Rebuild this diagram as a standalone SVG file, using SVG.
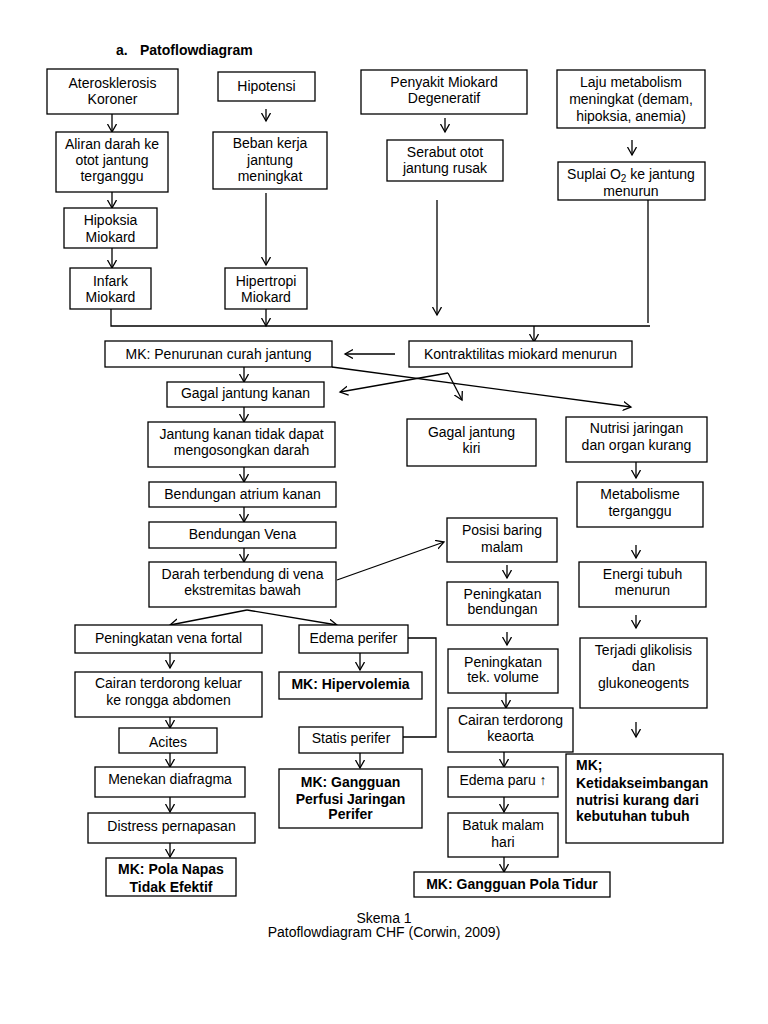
<svg xmlns="http://www.w3.org/2000/svg" width="768" height="1024" viewBox="0 0 768 1024">
<defs>
<marker id="ah" markerUnits="userSpaceOnUse" markerWidth="12" markerHeight="12" refX="8" refY="5" orient="auto">
<path d="M0,0.5 L8,5 L0,9.5" fill="none" stroke="#000" stroke-width="1.3"/>
</marker>
<style>
rect{fill:#fff;stroke:#000;stroke-width:1.3}
text{font-family:"Liberation Sans",Arial,sans-serif;font-size:14px;fill:#000}
.c{text-anchor:middle}
.b{font-weight:bold}
#connectors path,#connectors line,#connectors polyline{fill:none;stroke:#000;stroke-width:1.3}
.a{marker-end:url(#ah)}
</style>
</defs>
<rect x="0" y="0" width="768" height="1024" style="stroke:none"/>
<text x="116" y="55" class="b">a.</text>
<text x="140" y="55" class="b">Patoflowdiagram</text>

<g id="connectors">
<line class="a" x1="112" y1="114" x2="112" y2="132"/>
<line class="a" x1="112" y1="192" x2="112" y2="208"/>
<line class="a" x1="112" y1="248" x2="112" y2="268"/>
<line class="a" x1="266" y1="109" x2="266" y2="121"/>
<line class="a" x1="266" y1="193" x2="266" y2="265"/>
<line class="a" x1="266" y1="309" x2="266" y2="326"/>
<polyline points="111,309 111,326 650,326"/>
<line class="a" x1="445" y1="118" x2="445" y2="132"/>
<line class="a" x1="437" y1="200" x2="437" y2="315"/>
<line class="a" x1="632" y1="140" x2="632" y2="155"/>
<line x1="648" y1="200" x2="648" y2="323"/>
<line class="a" x1="534" y1="326" x2="534" y2="342"/>
<line class="a" x1="395" y1="354" x2="345" y2="354"/>
<line class="a" x1="244" y1="367" x2="244" y2="382"/>
<line class="a" x1="244" y1="407" x2="244" y2="422"/>
<line class="a" x1="244" y1="467" x2="244" y2="482"/>
<line class="a" x1="244" y1="507" x2="244" y2="522"/>
<line class="a" x1="244" y1="548" x2="244" y2="562"/>
<line class="a" x1="332" y1="367" x2="631" y2="407"/>
<line class="a" x1="448" y1="373" x2="340" y2="392"/>
<line class="a" x1="448" y1="373" x2="462" y2="400"/>
<line class="a" x1="337" y1="580" x2="444" y2="542"/>
<line class="a" x1="247" y1="610" x2="170" y2="625"/>
<line class="a" x1="247" y1="610" x2="337" y2="625"/>
<polyline points="408,638 436,638 436,737 403,737"/>
<line class="a" x1="360" y1="653" x2="360" y2="670"/>
<line class="a" x1="360" y1="753" x2="360" y2="768"/>
<line class="a" x1="170" y1="653" x2="170" y2="668"/>
<line class="a" x1="170" y1="717" x2="170" y2="728"/>
<line class="a" x1="170" y1="753" x2="170" y2="767"/>
<line class="a" x1="170" y1="797" x2="170" y2="812"/>
<line class="a" x1="170" y1="843" x2="170" y2="857"/>
<line class="a" x1="507" y1="565" x2="507" y2="578"/>
<line class="a" x1="507" y1="632" x2="507" y2="645"/>
<line class="a" x1="506" y1="693" x2="506" y2="708"/>
<line class="a" x1="504" y1="752" x2="504" y2="767"/>
<line class="a" x1="504" y1="797" x2="504" y2="812"/>
<line class="a" x1="504" y1="857" x2="504" y2="872"/>
<line class="a" x1="636" y1="462" x2="636" y2="478"/>
<line class="a" x1="636" y1="545" x2="636" y2="558"/>
<line class="a" x1="636" y1="615" x2="636" y2="628"/>
<line class="a" x1="636" y1="722" x2="636" y2="737"/>
</g>

<g id="aterosklerosis"><rect x="47" y="69" width="131" height="45"/><text class="c" x="112.5" y="88">Aterosklerosis</text><text class="c" x="112.5" y="104">Koroner</text></g>
<g id="hipotensi"><rect x="218" y="72" width="97" height="29"/><text class="c" x="266.5" y="91">Hipotensi</text></g>
<g id="aliran"><rect x="56" y="132" width="112" height="60"/><text class="c" x="112" y="149">Aliran darah ke</text><text class="c" x="112" y="165">otot jantung</text><text class="c" x="112" y="181">terganggu</text></g>
<g id="beban"><rect x="213" y="132" width="114" height="57"/><text class="c" x="270" y="148">Beban kerja</text><text class="c" x="270" y="165">jantung</text><text class="c" x="270" y="181">meningkat</text></g>
<g id="hipoksia"><rect x="64" y="208" width="93" height="40"/><text class="c" x="110.5" y="225">Hipoksia</text><text class="c" x="110.5" y="242">Miokard</text></g>
<g id="infark"><rect x="70" y="268" width="81" height="41"/><text class="c" x="110.5" y="286">Infark</text><text class="c" x="110.5" y="302">Miokard</text></g>
<g id="hipertropi"><rect x="225" y="268" width="82" height="41"/><text class="c" x="266" y="286">Hipertropi</text><text class="c" x="266" y="302">Miokard</text></g>
<g id="penyakit"><rect x="361" y="70" width="166" height="44"/><text class="c" x="444" y="87">Penyakit Miokard</text><text class="c" x="444" y="103">Degeneratif</text></g>
<g id="serabut"><rect x="387" y="140" width="116" height="41"/><text class="c" x="445" y="157">Serabut otot</text><text class="c" x="445" y="173">jantung rusak</text></g>
<g id="laju"><rect x="557" y="70" width="148" height="58"/><text class="c" x="631" y="87">Laju metabolism</text><text class="c" x="631" y="104">meningkat (demam,</text><text class="c" x="631" y="121">hipoksia, anemia)</text></g>
<g id="suplai"><rect x="558" y="162" width="147" height="38"/><text class="c" x="631" y="179">Suplai O<tspan font-size="10" dy="3">2</tspan><tspan dy="-3"> ke jantung</tspan></text><text class="c" x="631" y="196">menurun</text></g>
<g id="mk-penurunan"><rect x="105" y="341" width="227" height="26"/><text class="c" x="218.5" y="359">MK: Penurunan curah jantung</text></g>
<g id="kontraktilitas"><rect x="409" y="341" width="223" height="26"/><text class="c" x="520.5" y="359">Kontraktilitas miokard menurun</text></g>
<g id="gagal-kanan"><rect x="167" y="382" width="157" height="25"/><text class="c" x="245.5" y="398">Gagal jantung kanan</text></g>
<g id="jantung-kanan"><rect x="148" y="422" width="187" height="45"/><text class="c" x="241.5" y="439">Jantung kanan tidak dapat</text><text class="c" x="241.5" y="455">mengosongkan darah</text></g>
<g id="atrium"><rect x="149" y="482" width="187" height="25"/><text class="c" x="242.5" y="499">Bendungan atrium kanan</text></g>
<g id="vena"><rect x="149" y="522" width="187" height="26"/><text class="c" x="242.5" y="539">Bendungan Vena</text></g>
<g id="darah"><rect x="149" y="562" width="187" height="45"/><text class="c" x="242.5" y="579">Darah terbendung di vena</text><text class="c" x="242.5" y="595">ekstremitas bawah</text></g>
<g id="gagal-kiri"><rect x="407" y="419" width="129" height="47"/><text class="c" x="471.5" y="437">Gagal jantung</text><text class="c" x="471.5" y="453">kiri</text></g>
<g id="nutrisi"><rect x="566" y="417" width="141" height="45"/><text class="c" x="636.5" y="433">Nutrisi jaringan</text><text class="c" x="636.5" y="450">dan organ kurang</text></g>
<g id="metabolisme"><rect x="577" y="482" width="126" height="45"/><text class="c" x="640" y="499">Metabolisme</text><text class="c" x="640" y="516">terganggu</text></g>
<g id="energi"><rect x="579" y="562" width="127" height="45"/><text class="c" x="642.5" y="579">Energi tubuh</text><text class="c" x="642.5" y="595">menurun</text></g>
<g id="posisi"><rect x="447" y="518" width="110" height="44"/><text class="c" x="502" y="535">Posisi baring</text><text class="c" x="502" y="552">malam</text></g>
<g id="pen-bendungan"><rect x="447" y="582" width="111" height="43"/><text class="c" x="502.5" y="599">Peningkatan</text><text class="c" x="502.5" y="614">bendungan</text></g>
<g id="vena-fortal"><rect x="75" y="625" width="187" height="28"/><text class="c" x="168.5" y="643">Peningkatan vena fortal</text></g>
<g id="edema-perifer"><rect x="299" y="625" width="109" height="28"/><text class="c" x="353.5" y="643">Edema perifer</text></g>
<g id="cairan-keluar"><rect x="75" y="672" width="187" height="45"/><text class="c" x="168.5" y="688">Cairan terdorong keluar</text><text class="c" x="168.5" y="705">ke rongga abdomen</text></g>
<g id="mk-hipervolemia"><rect x="279" y="672" width="143" height="27"/><text class="c b" x="350.5" y="689">MK: Hipervolemia</text></g>
<g id="acites"><rect x="119" y="728" width="98" height="25"/><text class="c" x="168" y="747">Acites</text></g>
<g id="statis"><rect x="299" y="727" width="104" height="26"/><text class="c" x="351" y="743">Statis perifer</text></g>
<g id="menekan"><rect x="95" y="767" width="150" height="30"/><text class="c" x="170" y="784">Menekan diafragma</text></g>
<g id="mk-perfusi"><rect x="279" y="769" width="143" height="59"/><text class="c b" x="350.5" y="787">MK: Gangguan</text><text class="c b" x="350.5" y="804">Perfusi Jaringan</text><text class="c b" x="350.5" y="819">Perifer</text></g>
<g id="distress"><rect x="88" y="813" width="167" height="30"/><text class="c" x="171.5" y="831">Distress pernapasan</text></g>
<g id="mk-napas"><rect x="106" y="858" width="130" height="38"/><text class="c b" x="171" y="874">MK: Pola Napas</text><text class="c b" x="171" y="892">Tidak Efektif</text></g>
<g id="pen-tek"><rect x="448" y="649" width="110" height="44"/><text class="c" x="503" y="667">Peningkatan</text><text class="c" x="503" y="682">tek. volume</text></g>
<g id="cairan-aorta"><rect x="448" y="708" width="125" height="44"/><text class="c" x="510.5" y="725">Cairan terdorong</text><text class="c" x="510.5" y="741">keaorta</text></g>
<g id="edema-paru"><rect x="448" y="767" width="110" height="30"/><text class="c" x="503" y="785">Edema paru ↑</text></g>
<g id="batuk"><rect x="448" y="813" width="110" height="44"/><text class="c" x="503" y="830">Batuk malam</text><text class="c" x="503" y="847">hari</text></g>
<g id="mk-tidur"><rect x="414" y="872" width="196" height="25"/><text class="c b" x="512" y="889">MK: Gangguan Pola Tidur</text></g>
<g id="glikolisis"><rect x="580" y="638" width="127" height="70"/><text class="c" x="643.5" y="655">Terjadi glikolisis</text><text class="c" x="643.5" y="671">dan</text><text class="c" x="643.5" y="688">glukoneogents</text></g>
<g id="mk-nutrisi"><rect x="566" y="754" width="157" height="89"/><text class="b" x="576" y="770">MK;</text><text class="b" x="576" y="788">Ketidakseimbangan</text><text class="b" x="576" y="805">nutrisi kurang dari</text><text class="b" x="576" y="821">kebutuhan tubuh</text></g>

<text class="c" x="384" y="923">Skema 1</text>
<text class="c" x="384" y="937">Patoflowdiagram CHF (Corwin, 2009)</text>
</svg>
